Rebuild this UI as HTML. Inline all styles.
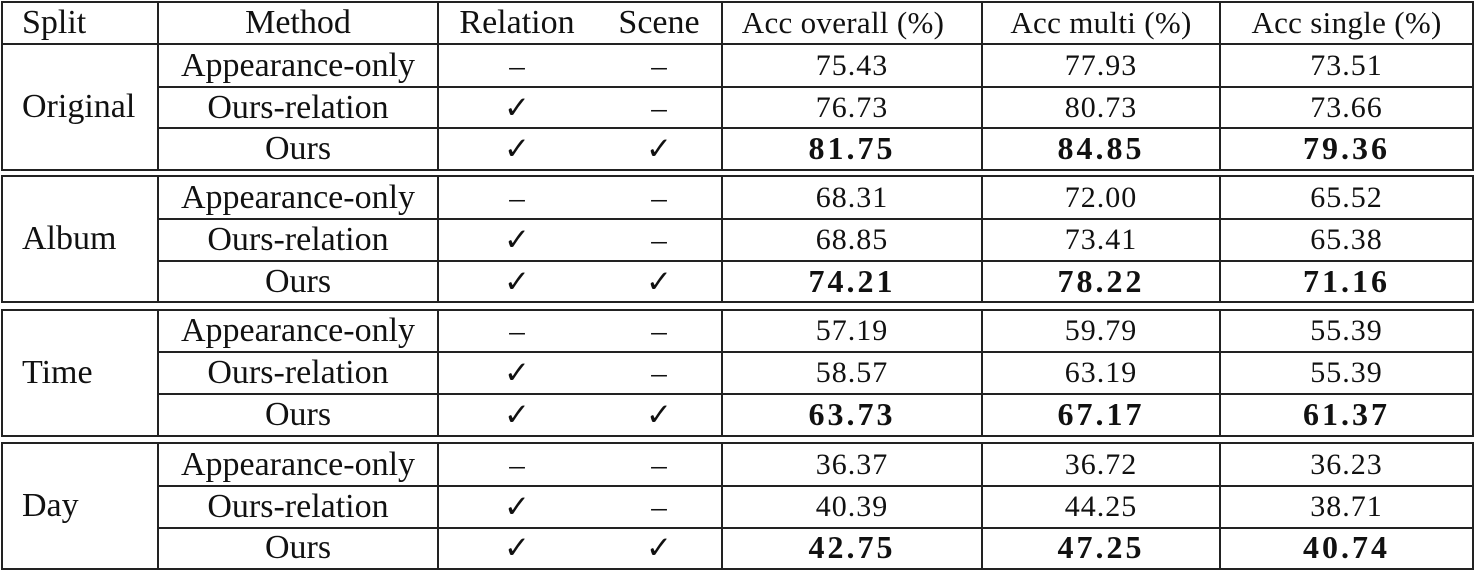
<!DOCTYPE html>
<html><head><meta charset="utf-8"><style>
body{margin:0;background:#fff;width:1475px;height:572px;overflow:hidden;position:relative;font-family:"Liberation Serif",serif;font-size:34px;color:#111}
.h{position:absolute;left:2px;width:1472px;height:2px;background:#222}
.hi{position:absolute;left:158px;width:1316px;height:2px;background:#222}
.v{position:absolute;width:2px;background:#222}
.t{position:absolute;text-align:center;white-space:nowrap;height:42px;line-height:43px}
.o,.u,.g{font-size:30px;letter-spacing:1px}
.b{font-weight:bold;font-size:32px;letter-spacing:3px}
.hd{font-size:31px;letter-spacing:0.3px}
.r,.s{font-size:31px}
.rh{font-size:34px}
.m{width:280px;left:158px}.r{width:160px;left:437px}.s{width:130px;left:594px}
.o{width:260px;left:722px}.u{width:238px;left:982px}.g{width:253px;left:1220px}
.sp{left:22px;text-align:left}
</style></head><body>
<div class="h" style="top:1px"></div><div class="h" style="top:43px"></div>
<div class="hi" style="top:86px"></div><div class="hi" style="top:127px"></div><div class="h" style="top:169px"></div>
<div class="h" style="top:175px"></div><div class="hi" style="top:218px"></div><div class="hi" style="top:260px"></div><div class="h" style="top:301px"></div>
<div class="h" style="top:309px"></div><div class="hi" style="top:351px"></div><div class="hi" style="top:393px"></div><div class="h" style="top:435px"></div>
<div class="h" style="top:442px"></div><div class="hi" style="top:485px"></div><div class="hi" style="top:527px"></div><div class="h" style="top:568px"></div>
<div class="v" style="left:1px;top:1px;height:170px"></div><div class="v" style="left:157px;top:1px;height:170px"></div><div class="v" style="left:437px;top:1px;height:170px"></div><div class="v" style="left:721px;top:1px;height:170px"></div><div class="v" style="left:981px;top:1px;height:170px"></div><div class="v" style="left:1219px;top:1px;height:170px"></div><div class="v" style="left:1472px;top:1px;height:170px"></div>
<div class="v" style="left:1px;top:175px;height:128px"></div><div class="v" style="left:157px;top:175px;height:128px"></div><div class="v" style="left:437px;top:175px;height:128px"></div><div class="v" style="left:721px;top:175px;height:128px"></div><div class="v" style="left:981px;top:175px;height:128px"></div><div class="v" style="left:1219px;top:175px;height:128px"></div><div class="v" style="left:1472px;top:175px;height:128px"></div>
<div class="v" style="left:1px;top:309px;height:128px"></div><div class="v" style="left:157px;top:309px;height:128px"></div><div class="v" style="left:437px;top:309px;height:128px"></div><div class="v" style="left:721px;top:309px;height:128px"></div><div class="v" style="left:981px;top:309px;height:128px"></div><div class="v" style="left:1219px;top:309px;height:128px"></div><div class="v" style="left:1472px;top:309px;height:128px"></div>
<div class="v" style="left:1px;top:442px;height:128px"></div><div class="v" style="left:157px;top:442px;height:128px"></div><div class="v" style="left:437px;top:442px;height:128px"></div><div class="v" style="left:721px;top:442px;height:128px"></div><div class="v" style="left:981px;top:442px;height:128px"></div><div class="v" style="left:1219px;top:442px;height:128px"></div><div class="v" style="left:1472px;top:442px;height:128px"></div>
<div class="t sp" style="top:1px">Split</div><div class="t m" style="top:1px">Method</div><div class="t r rh" style="top:1px">Relation</div><div class="t s rh" style="top:1px">Scene</div><div class="t o hd" style="top:1px;left:713px">Acc overall (%)</div><div class="t u hd" style="top:1px">Acc multi (%)</div><div class="t g hd" style="top:1px">Acc single (%)</div>
<div class="t sp" style="top:85px">Original</div>
<div class="t m" style="top:44px">Appearance-only</div><div class="t r" style="top:44px">–</div><div class="t s" style="top:44px">–</div><div class="t o" style="top:44px">75.43</div><div class="t u" style="top:44px">77.93</div><div class="t g" style="top:44px">73.51</div>
<div class="t m" style="top:86px">Ours-relation</div><div class="t r" style="top:86px">✓</div><div class="t s" style="top:86px">–</div><div class="t o" style="top:86px">76.73</div><div class="t u" style="top:86px">80.73</div><div class="t g" style="top:86px">73.66</div>
<div class="t m" style="top:127px">Ours</div><div class="t r" style="top:127px">✓</div><div class="t s" style="top:127px">✓</div><div class="t o b" style="top:127px">81.75</div><div class="t u b" style="top:127px">84.85</div><div class="t g b" style="top:127px">79.36</div>
<div class="t sp" style="top:217px">Album</div>
<div class="t m" style="top:176px">Appearance-only</div><div class="t r" style="top:176px">–</div><div class="t s" style="top:176px">–</div><div class="t o" style="top:176px">68.31</div><div class="t u" style="top:176px">72.00</div><div class="t g" style="top:176px">65.52</div>
<div class="t m" style="top:218px">Ours-relation</div><div class="t r" style="top:218px">✓</div><div class="t s" style="top:218px">–</div><div class="t o" style="top:218px">68.85</div><div class="t u" style="top:218px">73.41</div><div class="t g" style="top:218px">65.38</div>
<div class="t m" style="top:260px">Ours</div><div class="t r" style="top:260px">✓</div><div class="t s" style="top:260px">✓</div><div class="t o b" style="top:260px">74.21</div><div class="t u b" style="top:260px">78.22</div><div class="t g b" style="top:260px">71.16</div>
<div class="t sp" style="top:351px">Time</div>
<div class="t m" style="top:309px">Appearance-only</div><div class="t r" style="top:309px">–</div><div class="t s" style="top:309px">–</div><div class="t o" style="top:309px">57.19</div><div class="t u" style="top:309px">59.79</div><div class="t g" style="top:309px">55.39</div>
<div class="t m" style="top:351px">Ours-relation</div><div class="t r" style="top:351px">✓</div><div class="t s" style="top:351px">–</div><div class="t o" style="top:351px">58.57</div><div class="t u" style="top:351px">63.19</div><div class="t g" style="top:351px">55.39</div>
<div class="t m" style="top:393px">Ours</div><div class="t r" style="top:393px">✓</div><div class="t s" style="top:393px">✓</div><div class="t o b" style="top:393px">63.73</div><div class="t u b" style="top:393px">67.17</div><div class="t g b" style="top:393px">61.37</div>
<div class="t sp" style="top:484px">Day</div>
<div class="t m" style="top:443px">Appearance-only</div><div class="t r" style="top:443px">–</div><div class="t s" style="top:443px">–</div><div class="t o" style="top:443px">36.37</div><div class="t u" style="top:443px">36.72</div><div class="t g" style="top:443px">36.23</div>
<div class="t m" style="top:485px">Ours-relation</div><div class="t r" style="top:485px">✓</div><div class="t s" style="top:485px">–</div><div class="t o" style="top:485px">40.39</div><div class="t u" style="top:485px">44.25</div><div class="t g" style="top:485px">38.71</div>
<div class="t m" style="top:526px">Ours</div><div class="t r" style="top:526px">✓</div><div class="t s" style="top:526px">✓</div><div class="t o b" style="top:526px">42.75</div><div class="t u b" style="top:526px">47.25</div><div class="t g b" style="top:526px">40.74</div>
</body></html>
